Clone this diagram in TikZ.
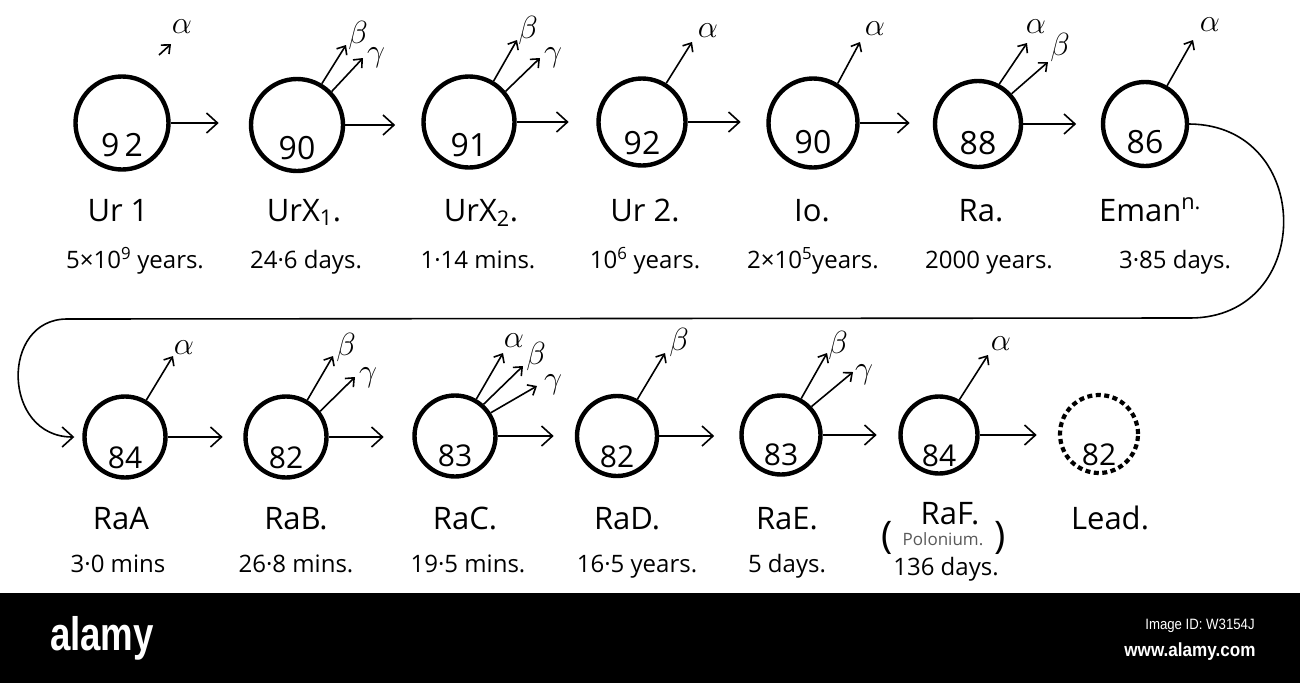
\RequirePackage{fix-cm}
\documentclass[tikz,border=0pt]{standalone}
\usepackage{fontspec}
\setmainfont{Open Sans}
\newfontfamily\alamyfont{Liberation Sans}
\usetikzlibrary{arrows.meta}
\begin{document}
\begin{tikzpicture}[x=1pt,y=-1pt,
  nuc/.style={circle,draw,line width=4.4pt,inner sep=0pt,minimum size=#1},
  leadnuc/.style={circle,draw,line width=4.2pt,inner sep=0pt,minimum size=#1,dash pattern=on 5pt off 3.5pt},
  decay/.style={line width=1.6pt,-{Straight Barb[length=11pt,width=20pt,line width=1.6pt]}},
  loop/.style={line width=1.6pt,-{Straight Barb[length=11pt,width=20pt,line width=1.6pt]},shorten >=8pt},
  emit/.style={line width=1.6pt,-{Straight Barb[length=7pt,width=12pt,line width=1.6pt]}},
  numA/.style={font=\fontsize{32}{32}\selectfont,inner sep=0pt},
  numB/.style={font=\fontsize{30}{30}\selectfont,inner sep=0pt},
  elname/.style={font=\fontsize{31}{31}\selectfont,anchor=base,inner sep=0pt},
  life/.style={font=\fontsize{24}{24}\selectfont,anchor=base,inner sep=0pt},
  glab/.style={font=\fontsize{32}{32}\selectfont,inner sep=0pt},
]
\useasboundingbox (0,0) rectangle (1300,683);
\fill[white] (0,0) rectangle (1300,683);

% ---------- row 1 ----------
\node[nuc=93pt] (Ur1)  at (122,123) {};
\node[nuc=92pt] (UrXa) at (297,125) {};
\node[nuc=91pt] (UrXb) at (469,122) {};
\node[nuc=87pt] (Ur2)  at (642,122) {};
\node[nuc=89pt] (Io)   at (813,123) {};
\node[nuc=86pt] (Ra)   at (978,124) {};
\node[nuc=84pt] (Em)   at (1145,124) {};

\node[numA] (n1) at ([yshift=-22pt]Ur1.center) {9\,2};
\node[numA] (n2) at ([yshift=-23pt]UrXa.center) {90};
\node[numA] (n3) at ([yshift=-23pt]UrXb.center) {91};
\node[numA] (n4) at ([yshift=-21pt]Ur2.center) {92};
\node[numA] (n5) at ([yshift=-19pt]Io.center) {90};
\node[numA] (n6) at ([yshift=-19pt]Ra.center) {88};
\node[numA] (n7) at ([yshift=-18pt]Em.center) {86};

\draw[decay] (Ur1.east)  -- ++(48,0);
\draw[decay] (UrXa.east) -- ++(50,0);
\draw[decay] (UrXb.east) -- ++(52,0);
\draw[decay] (Ur2.east)  -- ++(53,0);
\draw[decay] (Io.east)   -- ++(50,0);
\draw[decay] (Ra.east)   -- ++(53,0);

\node[elname] (t1) at (118,221) {Ur 1};
\node[elname] (t2) at (304,221) {UrX\textsubscript{1}.};
\node[elname] (t3) at (481,221) {UrX\textsubscript{2}.};
\node[elname] (t4) at (645,221) {Ur 2.};
\node[elname] (t5) at (812,221) {Io.};
\node[elname] (t6) at (981,221) {Ra.};
\node[elname] (t7) at (1150,221) {Eman\textsuperscript{n.}};

\node[life] (h1) at (135,268) {5×10\textsuperscript{9} years.};
\node[life] (h2) at (306,268) {24·6 days.};
\node[life] (h3) at (478,268) {1·14 mins.};
\node[life] (h4) at (645,268) {10\textsuperscript{6} years.};
\node[life] (h5) at (813,268) {2×10\textsuperscript{5}years.};
\node[life] (h6) at (989,268) {2000 years.};
\node[life] (h7) at (1175,268) {3·85 days.};

% emissions row 1
\coordinate (u1s) at (159,55);
\draw[emit] (u1s) -- (171,44);
\node[glab] (g1) at (182,27) {\(\alpha\)};
\draw[emit] (UrXa.59) -- (346,45);
\node[glab] (g2) at (358,35) {\(\beta\)};
\draw[emit] (UrXa.44) -- (363,58);
\node[glab] (g3) at (376,58) {\(\gamma\)};
\draw[emit] (UrXb.59) -- (517,40);
\node[glab] (g4) at (528,30) {\(\beta\)};
\draw[emit] (UrXb.40) -- (540,58);
\node[glab] (g5) at (553,58) {\(\gamma\)};
\draw[emit] (Ur2.58) -- (692,42);
\node[glab] (g6) at (708,31) {\(\alpha\)};
\draw[emit] (Io.58) -- (860,42);
\node[glab] (g7) at (875,29) {\(\alpha\)};
\draw[emit] (Ra.62) -- (1027,43);
\node[glab] (g8) at (1036,27) {\(\alpha\)};
\draw[emit] (Ra.42) -- (1048,62);
\node[glab] (g9) at (1060,47) {\(\beta\)};
\draw[emit] (Em.60) -- (1193,40);
\node[glab] (g10) at (1210,25) {\(\alpha\)};

% ---------- row 2 ----------
\node[nuc=81pt] (RaA) at (125,437) {};
\node[nuc=81pt] (RaB) at (286,437) {};
\node[nuc=81pt] (RaC) at (455,436) {};
\node[nuc=80pt] (RaD) at (617,436) {};
\node[nuc=79pt] (RaE) at (781,435) {};
\node[nuc=77pt] (RaF) at (939,435) {};
\node[leadnuc=78pt] (Pb) at (1099,434) {};

\node[numB] (m1) at ([yshift=-21pt]RaA.center) {84};
\node[numB] (m2) at ([yshift=-21pt]RaB.center) {82};
\node[numB] (m3) at ([yshift=-20pt]RaC.center) {83};
\node[numB] (m4) at ([yshift=-21pt]RaD.center) {82};
\node[numB] (m5) at ([yshift=-20pt]RaE.center) {83};
\node[numB] (m6) at ([yshift=-21pt]RaF.center) {84};
\node[numB] (m7) at ([yshift=-21pt]Pb.center) {82};

\draw[decay] (RaA.east) -- ++(55,0);
\draw[decay] (RaB.east) -- ++(55,0);
\draw[decay] (RaC.east) -- ++(56,0);
\draw[decay] (RaD.east) -- ++(55,0);
\draw[decay] (RaE.east) -- ++(54,0);
\draw[decay] (RaF.east) -- ++(57,0);

\node[elname] (s1) at (121,529) {RaA};
\node[elname] (s2) at (296,529) {RaB.};
\node[elname] (s3) at (465,529) {RaC.};
\node[elname] (s4) at (627,529) {RaD.};
\node[elname] (s5) at (787,529) {RaE.};
\node[elname] (s6) at (950,524) {RaF.};
\node[elname] (s7) at (1110,529) {Lead.};

\node[life] (k1) at (118,572) {3·0 mins};
\node[life] (k2) at (296,572) {26·8 mins.};
\node[life] (k3) at (468,572) {19·5 mins.};
\node[life] (k4) at (637,572) {16·5 years.};
\node[life] (k5) at (787,572) {5 days.};
\node[life] (k6) at (946,575) {136 days.};
\node[font=\fontsize{17}{17}\selectfont,text=black!65,inner sep=0pt,anchor=base] (pol) at (943,545) {Polonium.};
\node[font=\fontsize{38}{38}\selectfont,inner sep=0pt] (pl) at (887,538) {(};
\node[font=\fontsize{38}{38}\selectfont,inner sep=0pt] (pr) at (1000,538) {)};

% emissions row 2
\draw[emit] (RaA.60) -- (173,356);
\node[glab] (e1) at (184,348) {\(\alpha\)};
\draw[emit] (RaB.60) -- (333,356);
\node[glab] (e2) at (346,347) {\(\beta\)};
\draw[emit] (RaB.37) -- (355,377);
\node[glab] (e3) at (368,378) {\(\gamma\)};
\draw[emit] (RaC.60) -- (503,353);
\node[glab] (e4) at (514,341) {\(\alpha\)};
\draw[emit] (RaC.48) -- (523,366);
\node[glab] (e5) at (536,356) {\(\beta\)};
\draw[emit] (RaC.33) -- (537,386);
\node[glab] (e6) at (553,385) {\(\gamma\)};
\draw[emit] (RaD.61) -- (665,353);
\node[glab] (e7) at (679,342) {\(\beta\)};
\draw[emit] (RaE.61) -- (827,353);
\node[glab] (e8) at (838,345) {\(\beta\)};
\draw[emit] (RaE.43) -- (853,372);
\node[glab] (e9) at (864,375) {\(\gamma\)};
\draw[emit] (RaF.60) -- (988,355);
\node[glab] (e10) at (1001,344) {\(\alpha\)};

% ---------- loop connector ----------
\coordinate (rb) at (1190,318);
\coordinate (lb) at (67,319);
\draw[loop] (Em.east) .. controls (1315,125) and (1315,318) .. (rb) -- (lb)
  .. controls (0,319) and (2,437) .. (RaA.west);

% ---------- footer bar ----------
\fill[black] (0,593) rectangle (1300,683);
\node[text=white,font=\alamyfont\bfseries\fontsize{47}{47}\selectfont,anchor=base,inner sep=0pt] (al) at (102,650) {\scalebox{0.78}[1]{alamy}};
\node[text=white,font=\alamyfont\fontsize{15}{15}\selectfont,anchor=base,inner sep=0pt] (id) at (1200,629) {\scalebox{0.88}[1]{Image ID: W3154J}};
\node[text=white,font=\alamyfont\bfseries\fontsize{19}{19}\selectfont,anchor=base,inner sep=0pt] (www) at (1190,656) {\scalebox{0.9}[1]{www.alamy.com}};
\end{tikzpicture}
\end{document}
